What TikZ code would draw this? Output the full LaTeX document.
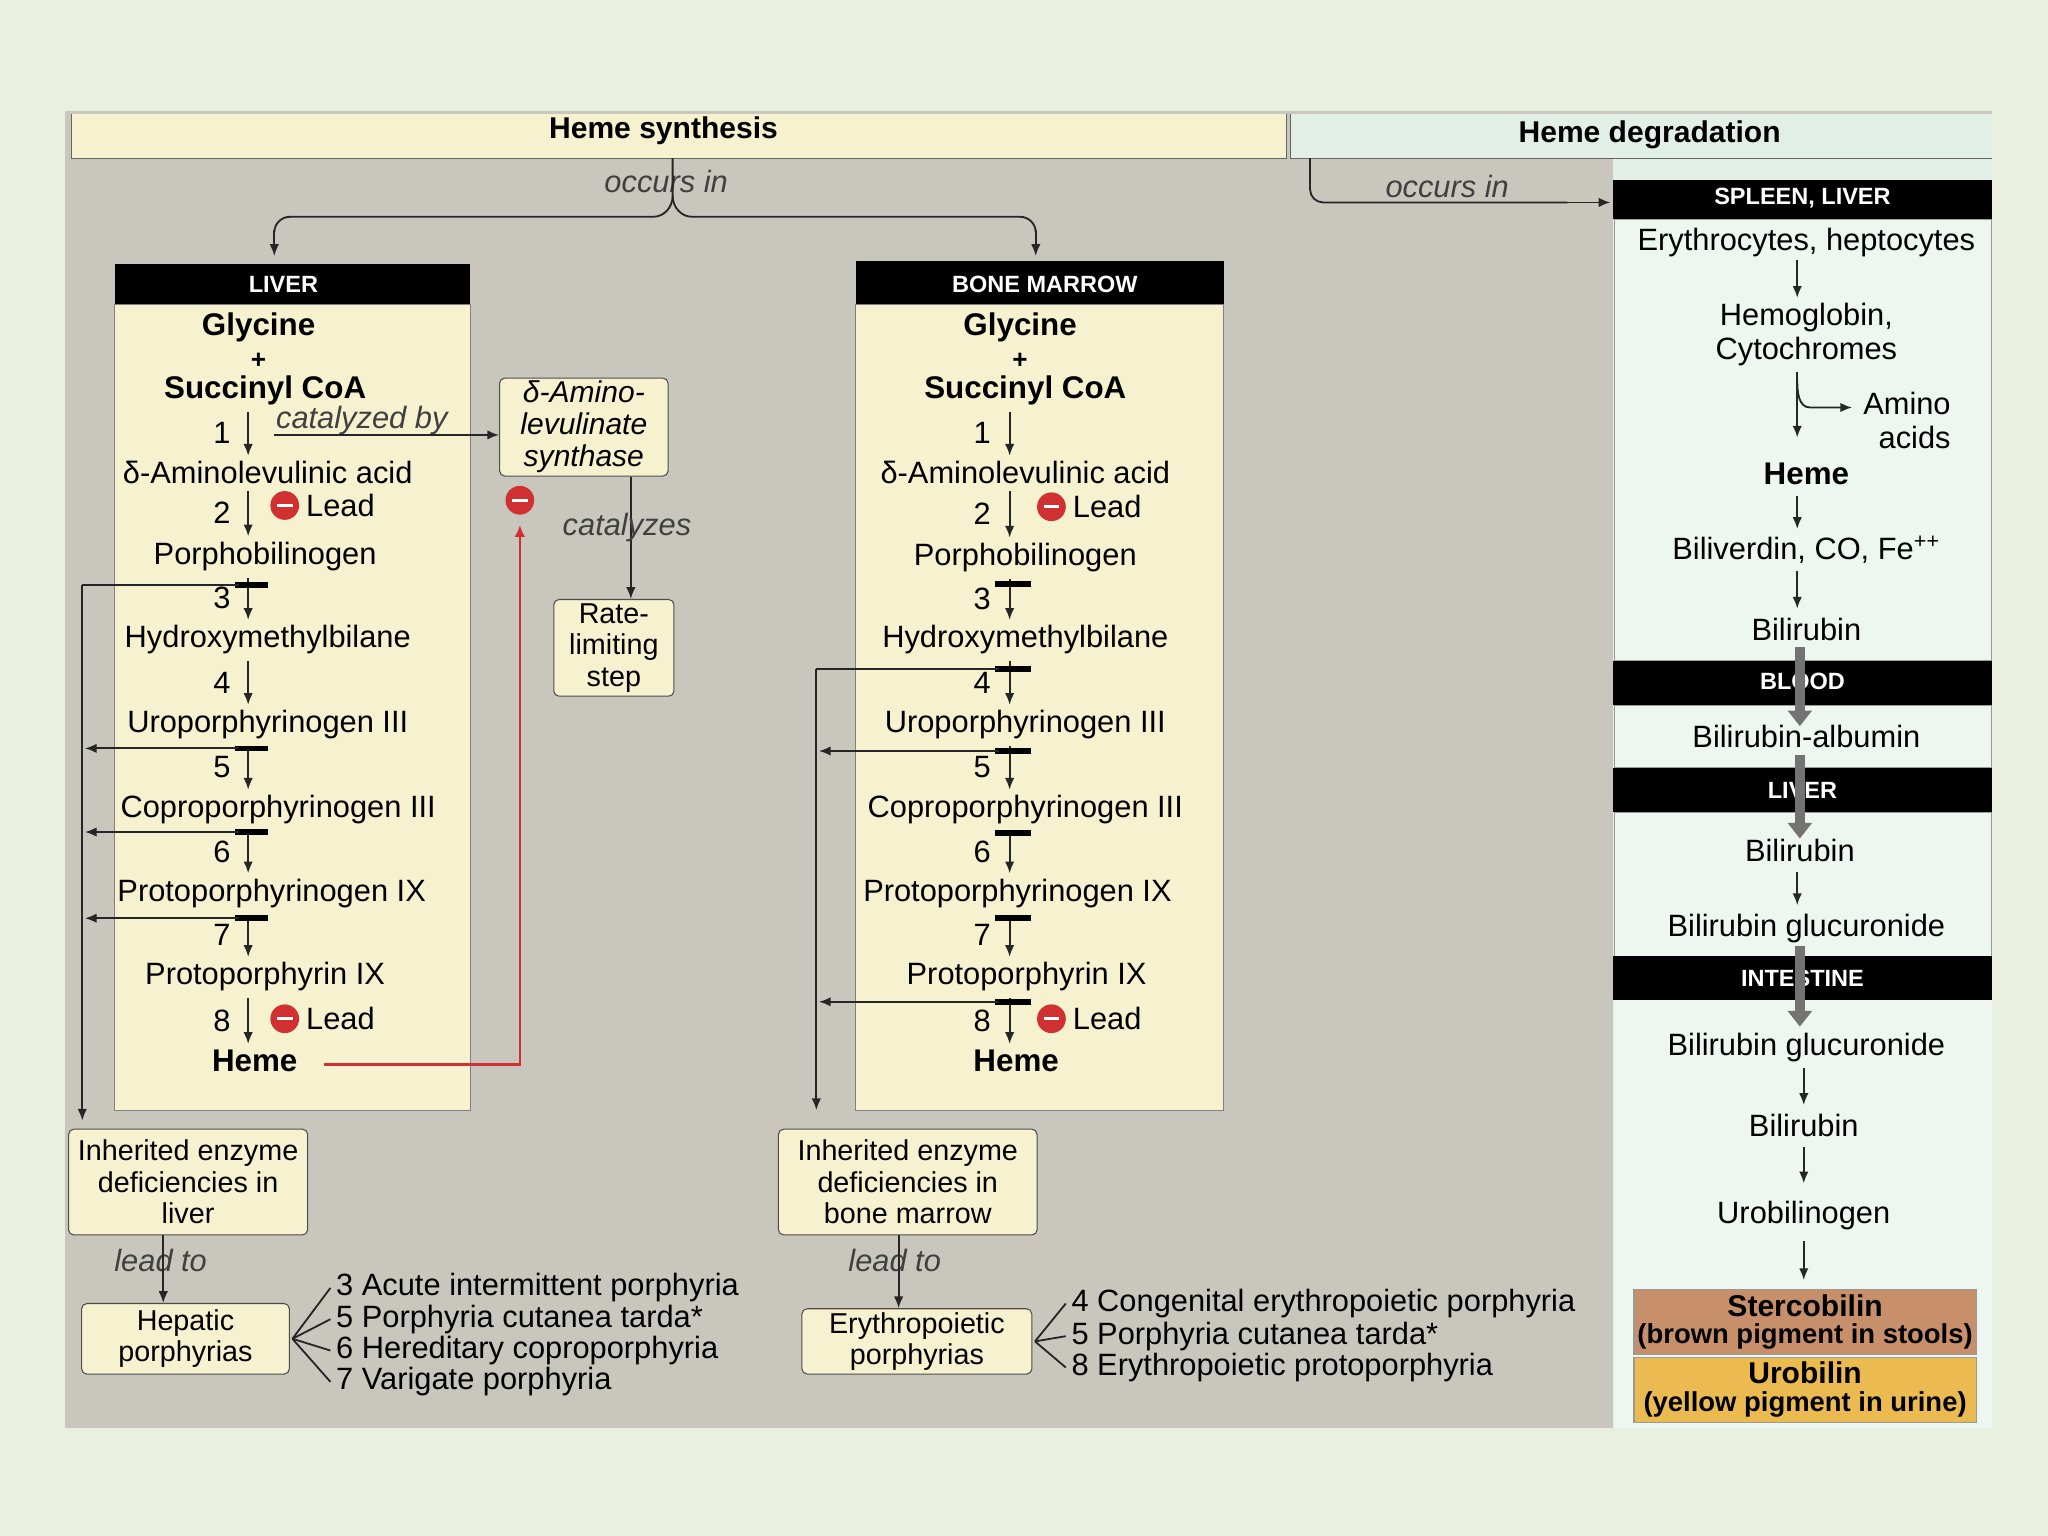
\documentclass[tikz,border=0pt]{standalone}
\usepackage{fontspec}
\setmainfont{Liberation Sans}
\usetikzlibrary{arrows.meta,calc}
\definecolor{bgc}{HTML}{E9F0E0}
\definecolor{panel}{HTML}{C9C6BD}
\definecolor{pale}{HTML}{F6F1CF}
\definecolor{mint}{HTML}{E2EFE6}
\definecolor{mintw}{HTML}{EEF6F0}
\definecolor{brn}{HTML}{C8906A}
\definecolor{org}{HTML}{EBBB52}
\definecolor{rd}{HTML}{D03030}
\begin{document}
\begin{tikzpicture}[x=0.5pt,y=-0.5pt,
  txt/.style={font=\fontsize{11.8}{13}\selectfont,inner sep=0pt},
  btxt/.style={font=\fontsize{12}{12}\selectfont\bfseries,inner sep=0pt},
  itxt/.style={font=\fontsize{11.8}{13}\selectfont\itshape,inner sep=0pt,text=black!75},
  box/.style={draw=black!70,fill=pale,rounded corners=2pt,align=center,font=\fontsize{11}{12}\selectfont,inner sep=1pt},
  ar/.style={-{Latex[length=4.5pt,width=3.6pt]},black!85,line width=0.7pt},
  gar/.style={-{Triangle[length=6pt,width=9pt]},black!55,line width=4pt},
  blk/.style={line width=2.2pt},
  hdr/.style={text=white,font=\fontsize{9}{10}\selectfont\bfseries},
  num/.style={font=\fontsize{11.8}{13}\selectfont,inner sep=0pt}]
\fill[bgc] (0,0) rectangle (1568,1176);
\useasboundingbox (0,0) rectangle (1568,1176);
\fill[panel] (50,85) rectangle (1525,1093);
\fill[mint] (1235,121) rectangle (1525,1093);
\fill[mint] (988,87) rectangle (1525,121);
\fill[pale] (55,87) rectangle (985,121);
\draw[black!60] (55,87) -- (55,121) -- (985,121) -- (985,87);
\draw[black!60] (988,87) -- (988,121) -- (1525,121);
\node[btxt,font=\fontsize{11.5}{12}\selectfont\bfseries] (hs) at (508,100) {Heme synthesis};
\node[btxt,font=\fontsize{11.5}{12}\selectfont\bfseries] (hd) at (1263,103) {Heme degradation};
% occurs in (left)
\node[itxt] (oc1) at (510,139) {occurs in};
\coordinate (liverTop) at (210,196);
\coordinate (bmTop) at (793,196);
\draw[black!85,line width=0.7pt] (515,121) -- (515,150) to[out=-90,in=0] (500,166) -- (222,166) to[out=180,in=90] (210,178);
\draw[ar] (210,176) -- (liverTop);
\draw[black!85,line width=0.7pt] (515,150) to[out=-90,in=180] (530,166) -- (781,166) to[out=0,in=90] (793,178);
\draw[ar] (793,176) -- (bmTop);
% occurs in right
\node[itxt] (oc2) at (1108,143) {occurs in};
\coordinate (sl) at (1233,155);
\draw[black!85,line width=0.7pt] (1003,121) -- (1003,145) to[out=-90,in=180] (1013,155) -- (1200,155);
\draw[ar] (1190,155) -- (sl);
% ================= columns
\fill[pale] (88,233) rectangle (360,850);
\draw[black!50] (88,233) rectangle (360,850);
\fill[black] (88,202) rectangle (360,233);
\node[hdr] at (217,218) {LIVER};
\fill[pale] (655,233) rectangle (937,850);
\draw[black!50] (655,233) rectangle (937,850);
\fill[black] (655,200) rectangle (937,233);
\node[hdr] at (800,218) {BONE MARROW};
% ---- liver texts
\node[btxt] (l1) at (198,251) {Glycine};
\node[btxt,font=\fontsize{10}{10}\selectfont\bfseries] (l2) at (198,276) {+};
\node[btxt] (l3) at (203,299) {Succinyl CoA};
\node[txt] (l4) at (205,362) {δ-Aminolevulinic acid};
\node[txt] (l5) at (203,426) {Porphobilinogen};
\node[txt] (l6) at (205,490) {Hydroxymethylbilane};
\node[txt] (l7) at (205,555) {Uroporphyrinogen III};
\node[txt] (l8) at (213,620) {Coproporphyrinogen III};
\node[txt] (l9) at (208,684) {Protoporphyrinogen IX};
\node[txt] (l10) at (203,748) {Protoporphyrin IX};
\node[btxt] (l11) at (195,812) {Heme};
\node[btxt] (m1) at (781,251) {Glycine};
\node[btxt,font=\fontsize{10}{10}\selectfont\bfseries] (m2) at (781,276) {+};
\node[btxt] (m3) at (785,299) {Succinyl CoA};
\node[txt] (m4) at (785,362) {δ-Aminolevulinic acid};
\node[txt] (m5) at (785,427) {Porphobilinogen};
\node[txt] (m6) at (785,490) {Hydroxymethylbilane};
\node[txt] (m7) at (785,555) {Uroporphyrinogen III};
\node[txt] (m8) at (785,620) {Coproporphyrinogen III};
\node[txt] (m9) at (779,684) {Protoporphyrinogen IX};
\node[txt] (m10) at (786,748) {Protoporphyrin IX};
\node[btxt] (m11) at (778,812) {Heme};
% step arrows
\foreach \p/\ax/\nx in {l/190/170,m/773/752}{
 \coordinate (ax) at (\ax,0);
 \coordinate (nx) at (\nx,0);
 \foreach \a/\b/\n in {3/4/1,4/5/2,5/6/3,6/7/4,7/8/5,8/9/6,9/10/7,10/11/8}{
  \draw[ar] ([yshift=-2.5pt]\p\a.south -| ax) -- ([yshift=2pt]\p\b.north -| ax);
  \path ($(\p\a.south)!0.5!(\p\b.north)$) coordinate (mid);
  \node[num] at (mid -| nx) {\n};
 }}
% bars
\foreach \y in {448,573,637,703}{\draw[blk] (180,\y) -- (205,\y);}
\foreach \y in {447,512,575,638,703,767}{\draw[blk] (762,\y) -- (789,\y);}
% side inhibitor lines
\coordinate (linh) at (63,858);
\draw[black!85,line width=0.7pt] (183,448) -- (63,448);
\foreach \y in {573,637,703}{\draw[ar] (183,\y) -- (65,\y);}
\draw[ar] (63,448) -- (linh);
\coordinate (minh) at (625,850);
\draw[black!85,line width=0.7pt] (765,512) -- (625,512);
\foreach \y in {575,767}{\draw[ar] (765,\y) -- (627,\y);}
\draw[ar] (625,512) -- (minh);
% lead
\foreach \x/\y in {218/387,218/780,805/388,805/780}{
 \fill[rd] (\x,\y) circle (11);
 \draw[white,line width=1.3pt] (\x-6,\y) -- (\x+6,\y);
 \node[txt,anchor=west] at (\x+16,\y) {Lead};}
% synthase
\node[box,font=\fontsize{11.5}{12.2}\selectfont\itshape,minimum width=64.5pt,minimum height=37.5pt] (syn) at (447,327) {δ-Amino-\\levulinate\\synthase};
\node[itxt] (cat) at (277,322) {catalyzed by};
\coordinate (cst) at (210,333);
\draw[ar] (cst) -- (cst -| syn.west);
\node[box,minimum width=46pt,minimum height=37pt] (rl) at (470,496) {Rate-\\limiting\\step};
\coordinate (cx) at (483,365);
\draw[ar] (cx) -- (cx |- rl.north);
\node[itxt] (cz) at (480,404) {catalyzes};
\fill[rd] (398,383) circle (11);
\draw[white,line width=1.3pt] (392,383) -- (404,383);
\draw[rd,line width=0.8pt,-{Latex[length=4.5pt,width=4pt]}] (248,815) -- (398,815) -- (398,402);
% inherited
\node[box,minimum width=91.5pt,minimum height=40.5pt] (ie1) at (144,905) {Inherited enzyme\\deficiencies in\\liver};
\node[box,minimum width=99pt,minimum height=40.5pt] (ie2) at (695,905) {Inherited enzyme\\deficiencies in\\bone marrow};
\node[itxt] at (123,965) {lead to};
\node[itxt] at (685,965) {lead to};
\node[box,minimum width=79.5pt,minimum height=27pt] (hp) at (142,1025) {Hepatic\\porphyrias};
\node[box,minimum width=88pt,minimum height=25pt] (ep) at (702,1027) {Erythropoietic\\porphyrias};
\coordinate (h1) at (125,0);
\coordinate (h2) at (688,0);
\draw[ar] (ie1.south -| h1) -- (hp.north -| h1);
\draw[ar] (ie2.south -| h2) -- (ep.north -| h2);
\foreach \t/\y [count=\i] in {3 Acute intermittent porphyria/986,5 Porphyria cutanea tarda*/1010,6 Hereditary coproporphyria/1034,7 Varigate porphyria/1058}{
 \node[txt,anchor=west] (hl\i) at (257,\y) {\t};
 \draw[black!85,line width=0.7pt] ([xshift=1pt]hp.east) -- ([xshift=-2pt]hl\i.west);}
\foreach \t/\y [count=\i] in {4 Congenital erythropoietic porphyria/998,5 Porphyria cutanea tarda*/1023,8 Erythropoietic protoporphyria/1047}{
 \node[txt,anchor=west] (el\i) at (820,\y) {\t};
 \draw[black!85,line width=0.7pt] ([xshift=1pt]ep.east) -- ([xshift=-2pt]el\i.west);}
% ============= right column
\fill[mintw] (1236,168) rectangle (1525,506);
\fill[mintw] (1236,540) rectangle (1525,588);
\fill[mintw] (1236,622) rectangle (1525,732);
\fill[mintw] (1236,766) rectangle (1525,1093);
\draw[black!40] (1236,168) rectangle (1525,506) (1236,540) rectangle (1525,588) (1236,622) rectangle (1525,732);
\fill[black] (1235,138) rectangle (1525,168);
\node[hdr] at (1380,152) {SPLEEN, LIVER};
\fill[black] (1235,506) rectangle (1525,540);
\node[hdr] at (1380,522) {BLOOD};
\fill[black] (1235,588) rectangle (1525,622);
\node[hdr] at (1380,605) {LIVER};
\fill[black] (1235,732) rectangle (1525,766);
\node[hdr] at (1380,749) {INTESTINE};
\node[txt] (r1) at (1383,186) {Erythrocytes, heptocytes};
\node[txt,align=center] (r2) at (1383,256) {Hemoglobin,\\Cytochromes};
\node[txt,align=right] (aa) at (1460,322) {Amino\\acids};
\node[btxt] (r3) at (1383,363) {Heme};
\node[txt] (r4) at (1383,421) {Biliverdin, CO, Fe\textsuperscript{++}};
\node[txt] (r5) at (1383,482) {Bilirubin};
\node[txt] (r6) at (1383,564) {Bilirubin-albumin};
\node[txt] (r7) at (1378,651) {Bilirubin};
\node[txt] (r8) at (1383,711) {Bilirubin glucuronide};
\node[txt] (r9) at (1383,802) {Bilirubin glucuronide};
\node[txt] (r10) at (1381,862) {Bilirubin};
\node[txt] (r11) at (1381,931) {Urobilinogen};
\draw[ar] (1376,199) -- (1376,228);
\draw[ar] (1376,285) -- (1376,335);
\draw[ar] (1376,290) to[out=-90,in=180] (1386,312) -- (1418,312);
\draw[ar] (1376,380) -- (1376,405);
\draw[ar] (1376,437) -- (1376,466);
\draw[gar] (1378,495) -- (1378,556);
\draw[gar] (1378,578) -- (1378,642);
\draw[ar] (1376,668) -- (1376,693);
\draw[gar] (1378,724) -- (1378,786);
\draw[ar] (1381,818) -- (1381,846);
\draw[ar] (1381,878) -- (1381,906);
\draw[ar] (1381,950) -- (1381,980);
\node[draw=black!40,fill=brn,minimum width=131pt,minimum height=25pt,align=center,inner sep=0pt,font=\fontsize{10.5}{10.5}\selectfont\bfseries] (st) at (1382,1012) {\fontsize{11.5}{11}\selectfont Stercobilin\\(brown pigment in stools)};
\node[draw=black!40,fill=org,minimum width=131pt,minimum height=25pt,align=center,inner sep=0pt,font=\fontsize{10.5}{10.5}\selectfont\bfseries] (ub) at (1382,1064) {\fontsize{11.5}{11}\selectfont Urobilin\\(yellow pigment in urine)};
\end{tikzpicture}
\end{document}
